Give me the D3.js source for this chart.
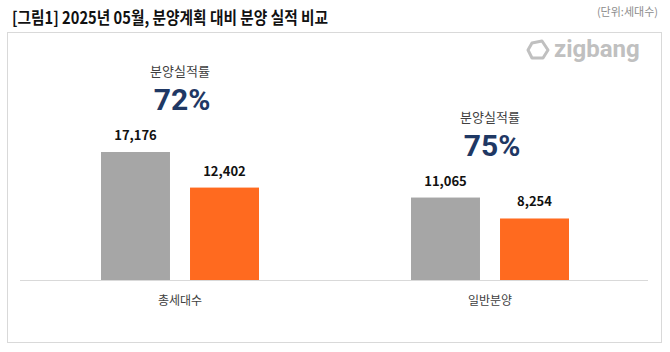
<!DOCTYPE html>
<html>
<head>
<meta charset="utf-8">
<script src="https://cdn.jsdelivr.net/npm/d3@7"></script>
<style>
  body { margin: 0; background: #fff; }
  svg { font-family: "Noto Sans CJK KR", "Noto Sans", sans-serif; }
</style>
</head>
<body>
<div id="chart"></div>
<script>
// 분양계획 대비 분양 실적
const categories = ["총세대수", "일반분양"];
const series = ["계획", "실적"];
const planValues = [17176, 11065];
const actualValues = [12402, 8254];
const rateLabels = ["72%", "75%"];
const rateTitle = "분양실적률";
const colors = ["#a6a6a6", "#ff6a1f"];

const W = 670, H = 352;
const baseY = 280;

const svg = d3.select("#chart").append("svg")
  .attr("width", W)
  .attr("height", H);

// title
svg.append("text")
  .attr("x", 12)
  .attr("y", 24)
  .attr("textLength", 316)
  .attr("lengthAdjust", "spacingAndGlyphs")
  .style("font-size", "17px")
  .style("font-weight", "bold")
  .style("fill", "#111")
  .text("[그림1] 2025년 05월, 분양계획 대비 분양 실적 비교");

svg.append("text")
  .attr("x", 658)
  .attr("y", 16)
  .attr("text-anchor", "end")
  .style("font-size", "11px")
  .style("fill", "#8c8c8c")
  .text("(단위:세대수)");

// frame
svg.append("rect")
  .attr("x", 7.5)
  .attr("y", 32.5)
  .attr("width", 654)
  .attr("height", 310)
  .attr("fill", "none")
  .attr("stroke", "#d9d9d9")
  .attr("stroke-width", 1);

// zigbang logo
const logo = svg.append("g").attr("transform", "translate(528,50)");
logo.append("path")
  .attr("d", "M4,-7 L14,-9 L20,0 L15,8 L4,8 L0,0 Z")
  .attr("fill", "none")
  .attr("stroke", "#c0c0c0")
  .attr("stroke-width", 3)
  .attr("stroke-linejoin", "round");
logo.append("text")
  .attr("x", 26)
  .attr("y", 7)
  .style("font-family", "Roboto, sans-serif")
  .style("font-size", "24px")
  .style("font-weight", "bold")
  .style("fill", "#c0c0c0")
  .text("zigbang");

// scales
const x0 = d3.scaleBand()
  .domain(categories)
  .range([25, 645]);

const x1 = d3.scaleBand()
  .domain(series)
  .range([-79, 79])
  .paddingInner(0.225);

const y = d3.scaleLinear()
  .domain([0, 17176])
  .range([baseY, 152]);

const rows = categories.map((c, i) => ({
  cat: c,
  vals: [planValues[i], actualValues[i]],
  rate: rateLabels[i]
}));

// axis line
svg.append("line")
  .attr("x1", 20)
  .attr("x2", 648)
  .attr("y1", baseY + 0.5)
  .attr("y2", baseY + 0.5)
  .attr("stroke", "#d9d9d9")
  .attr("stroke-width", 1);

const groups = svg.selectAll(".grp")
  .data(rows)
  .enter()
  .append("g")
  .attr("class", "grp")
  .attr("transform", d => `translate(${x0(d.cat) + x0.bandwidth() / 2},0)`);

groups.selectAll("rect")
  .data(d => d.vals.map((v, j) => ({ key: series[j], v: v, j: j })))
  .enter()
  .append("rect")
  .attr("x", d => x1(d.key))
  .attr("y", d => y(d.v))
  .attr("width", x1.bandwidth())
  .attr("height", d => baseY - y(d.v))
  .attr("fill", d => colors[d.j]);

// value labels
groups.selectAll(".val")
  .data(d => d.vals.map((v, j) => ({ key: series[j], v: v })))
  .enter()
  .append("text")
  .attr("class", "val")
  .attr("x", d => x1(d.key) + x1.bandwidth() / 2)
  .attr("y", d => y(d.v) - 12)
  .attr("text-anchor", "middle")
  .style("font-size", "13px")
  .style("font-weight", "bold")
  .style("fill", "#111")
  .text(d => d3.format(",")(d.v));

// rate annotation above the taller bar
groups.append("text")
  .attr("x", 0)
  .attr("y", d => y(d3.max(d.vals)) - 76)
  .attr("text-anchor", "middle")
  .style("font-size", "13px")
  .style("fill", "#404040")
  .text(rateTitle);

groups.append("text")
  .attr("x", 2)
  .attr("y", d => y(d3.max(d.vals)) - 42)
  .attr("text-anchor", "middle")
  .style("font-family", "Roboto, 'Liberation Sans', sans-serif")
  .style("font-size", "30px")
  .style("font-weight", "bold")
  .style("fill", "#1f3864")
  .text(d => d.rate);

// category labels
groups.append("text")
  .attr("x", 0)
  .attr("y", 305)
  .attr("text-anchor", "middle")
  .style("font-size", "12px")
  .style("fill", "#404040")
  .text(d => d.cat);
</script>
</body>
</html>
